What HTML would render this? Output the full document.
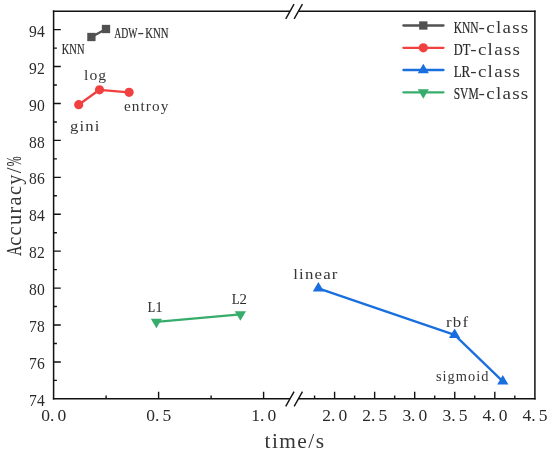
<!DOCTYPE html>
<html lang="en"><head><meta charset="utf-8"><title>Accuracy vs time</title>
<style>html,body{margin:0;padding:0;background:#fff}body{width:550px;height:457px;overflow:hidden}svg{display:block}</style>
</head><body>
<svg width="550" height="457" viewBox="0 0 550 457">
<rect width="550" height="457" fill="#fff"/>
<g stroke="#111" stroke-width="1.5" fill="none" stroke-linecap="square">
<path d="M53.6,11.15 V398.85 M534.9,11.15 V398.85"/>
<path stroke-linecap="butt" d="M52.85,11.15 H289.9 M298.3,11.15 H535.65 M52.85,398.85 H289.9 M298.3,398.85 H535.65"/>
</g>
<g stroke="#111" stroke-width="1.4" stroke-linecap="butt">
<line x1="285.75" y1="18.85" x2="294.05" y2="4.05"/>
<line x1="294.15" y1="18.85" x2="302.45" y2="4.05"/>
<line x1="285.75" y1="406.45" x2="294.05" y2="391.65"/>
<line x1="294.15" y1="406.45" x2="302.45" y2="391.65"/>
</g>
<path d="M53.6,380.39 h3.3 M53.6,361.93 h7.2 M53.6,343.47 h3.3 M53.6,325.01 h7.2 M53.6,306.55 h3.3 M53.6,288.09 h7.2 M53.6,269.63 h3.3 M53.6,251.17 h7.2 M53.6,232.71 h3.3 M53.6,214.25 h7.2 M53.6,195.79 h3.3 M53.6,177.33 h7.2 M53.6,158.87 h3.3 M53.6,140.41 h7.2 M53.6,121.95 h3.3 M53.6,103.49 h7.2 M53.6,85.03 h3.3 M53.6,66.57 h7.2 M53.6,48.11 h3.3 M53.6,29.65 h7.2 M106.10,398.85 v-3.3 M158.60,398.85 v-7.2 M211.10,398.85 v-3.3 M263.60,398.85 v-7.2 M314.58,398.85 v-3.3 M334.60,398.85 v-7.2 M354.62,398.85 v-3.3 M374.65,398.85 v-7.2 M394.68,398.85 v-3.3 M414.70,398.85 v-7.2 M434.73,398.85 v-3.3 M454.75,398.85 v-7.2 M474.77,398.85 v-3.3 M494.80,398.85 v-7.2 M514.83,398.85 v-3.3" stroke="#111" stroke-width="1.4" fill="none"/>
<text x="29.10" y="405.95" font-family='"Liberation Serif", serif' font-size="17.5" fill="#2a2a2a"><tspan textLength="15.60" lengthAdjust="spacingAndGlyphs">74</tspan></text>
<text x="29.10" y="369.03" font-family='"Liberation Serif", serif' font-size="17.5" fill="#2a2a2a"><tspan textLength="15.60" lengthAdjust="spacingAndGlyphs">76</tspan></text>
<text x="29.10" y="332.11" font-family='"Liberation Serif", serif' font-size="17.5" fill="#2a2a2a"><tspan textLength="15.60" lengthAdjust="spacingAndGlyphs">78</tspan></text>
<text x="29.10" y="295.19" font-family='"Liberation Serif", serif' font-size="17.5" fill="#2a2a2a"><tspan textLength="15.60" lengthAdjust="spacingAndGlyphs">80</tspan></text>
<text x="29.10" y="258.27" font-family='"Liberation Serif", serif' font-size="17.5" fill="#2a2a2a"><tspan textLength="15.60" lengthAdjust="spacingAndGlyphs">82</tspan></text>
<text x="29.10" y="221.35" font-family='"Liberation Serif", serif' font-size="17.5" fill="#2a2a2a"><tspan textLength="15.60" lengthAdjust="spacingAndGlyphs">84</tspan></text>
<text x="29.10" y="184.43" font-family='"Liberation Serif", serif' font-size="17.5" fill="#2a2a2a"><tspan textLength="15.60" lengthAdjust="spacingAndGlyphs">86</tspan></text>
<text x="29.10" y="147.51" font-family='"Liberation Serif", serif' font-size="17.5" fill="#2a2a2a"><tspan textLength="15.60" lengthAdjust="spacingAndGlyphs">88</tspan></text>
<text x="29.10" y="110.59" font-family='"Liberation Serif", serif' font-size="17.5" fill="#2a2a2a"><tspan textLength="15.60" lengthAdjust="spacingAndGlyphs">90</tspan></text>
<text x="29.10" y="73.67" font-family='"Liberation Serif", serif' font-size="17.5" fill="#2a2a2a"><tspan textLength="15.60" lengthAdjust="spacingAndGlyphs">92</tspan></text>
<text x="29.10" y="36.75" font-family='"Liberation Serif", serif' font-size="17.5" fill="#2a2a2a"><tspan textLength="15.60" lengthAdjust="spacingAndGlyphs">94</tspan></text>
<text x="41.30 50.00 57.50" y="421.30" font-family='"Liberation Serif", serif' font-size="17.5" fill="#2a2a2a">0.0</text>
<text x="146.30 155.00 162.50" y="421.30" font-family='"Liberation Serif", serif' font-size="17.5" fill="#2a2a2a">0.5</text>
<text x="251.30 260.00 267.50" y="421.30" font-family='"Liberation Serif", serif' font-size="17.5" fill="#2a2a2a">1.0</text>
<text x="322.30 331.00 338.50" y="421.30" font-family='"Liberation Serif", serif' font-size="17.5" fill="#2a2a2a">2.0</text>
<text x="362.35 371.05 378.55" y="421.30" font-family='"Liberation Serif", serif' font-size="17.5" fill="#2a2a2a">2.5</text>
<text x="402.40 411.10 418.60" y="421.30" font-family='"Liberation Serif", serif' font-size="17.5" fill="#2a2a2a">3.0</text>
<text x="442.45 451.15 458.65" y="421.30" font-family='"Liberation Serif", serif' font-size="17.5" fill="#2a2a2a">3.5</text>
<text x="482.50 491.20 498.70" y="421.30" font-family='"Liberation Serif", serif' font-size="17.5" fill="#2a2a2a">4.0</text>
<text x="522.55 531.25 538.75" y="421.30" font-family='"Liberation Serif", serif' font-size="17.5" fill="#2a2a2a">4.5</text>
<text x="264.60" y="447.60" font-family='"Liberation Serif", serif' font-size="20" fill="#2a2a2a"><tspan font-size="21.20" letter-spacing="1.40" fill="#363636" textLength="60.80" lengthAdjust="spacingAndGlyphs">time/s</tspan></text>
<g transform="translate(21.3,255.7) rotate(-90)">
<text x="0.00" y="0.00" font-family='"Liberation Serif", serif' font-size="20" fill="#2a2a2a"><tspan stroke="#2a2a2a" stroke-width="0.2" textLength="9.95" lengthAdjust="spacingAndGlyphs">A</tspan><tspan font-size="21.20" letter-spacing="1.40" fill="#363636" textLength="79.60" lengthAdjust="spacingAndGlyphs">ccuracy/</tspan><tspan stroke="#2a2a2a" stroke-width="0.2" textLength="9.95" lengthAdjust="spacingAndGlyphs">%</tspan></text>
</g>
<polyline points="91.40,37.00 106.00,29.00" fill="none" stroke="#515151" stroke-width="2.3" stroke-linejoin="round" stroke-linecap="round"/>
<rect x="87.25" y="32.85" width="8.3" height="8.3" fill="#515151"/>
<rect x="101.85" y="24.85" width="8.3" height="8.3" fill="#515151"/>
<polyline points="78.70,104.70 99.50,89.80 129.10,92.30" fill="none" stroke="#F14040" stroke-width="2.3" stroke-linejoin="round" stroke-linecap="round"/>
<circle cx="78.70" cy="104.70" r="4.6" fill="#F14040"/>
<circle cx="99.50" cy="89.80" r="4.6" fill="#F14040"/>
<circle cx="129.10" cy="92.30" r="4.6" fill="#F14040"/>
<polyline points="318.40,288.30 454.60,334.80 502.80,381.30" fill="none" stroke="#1A6FDF" stroke-width="2.3" stroke-linejoin="round" stroke-linecap="round"/>
<polygon points="312.80,291.47 324.00,291.47 318.40,281.97" fill="#1A6FDF"/>
<polygon points="449.00,337.97 460.20,337.97 454.60,328.47" fill="#1A6FDF"/>
<polygon points="497.20,384.47 508.40,384.47 502.80,374.97" fill="#1A6FDF"/>
<polyline points="156.40,321.90 240.40,314.30" fill="none" stroke="#37AD6B" stroke-width="2.3" stroke-linejoin="round" stroke-linecap="round"/>
<polygon points="150.80,318.73 162.00,318.73 156.40,328.23" fill="#37AD6B"/>
<polygon points="234.80,311.13 246.00,311.13 240.40,320.63" fill="#37AD6B"/>
<text x="61.80" y="53.60" font-family='"Liberation Serif", serif' font-size="15" fill="#2a2a2a"><tspan stroke="#2a2a2a" stroke-width="0.2" textLength="22.65" lengthAdjust="spacingAndGlyphs">KNN</tspan></text>
<text x="114.30" y="38.40" font-family='"Liberation Serif", serif' font-size="15" fill="#2a2a2a"><tspan stroke="#2a2a2a" stroke-width="0.2" textLength="23.25" lengthAdjust="spacingAndGlyphs">ADW</tspan><tspan font-size="15.90" letter-spacing="1.05" fill="#363636" textLength="7.75" lengthAdjust="spacingAndGlyphs">-</tspan><tspan stroke="#2a2a2a" stroke-width="0.2" textLength="23.25" lengthAdjust="spacingAndGlyphs">KNN</tspan></text>
<text x="84.00" y="80.30" font-family='"Liberation Serif", serif' font-size="15" fill="#2a2a2a"><tspan font-size="15.00" letter-spacing="1.05" fill="#363636" textLength="23.25" lengthAdjust="spacingAndGlyphs">log</tspan></text>
<text x="124.00" y="110.60" font-family='"Liberation Serif", serif' font-size="15" fill="#2a2a2a"><tspan font-size="15.00" letter-spacing="1.05" fill="#363636" textLength="45.45" lengthAdjust="spacingAndGlyphs">entroy</tspan></text>
<text x="70.00" y="131.40" font-family='"Liberation Serif", serif' font-size="15" fill="#2a2a2a"><tspan font-size="15.00" letter-spacing="1.05" fill="#363636" textLength="30.65" lengthAdjust="spacingAndGlyphs">gini</tspan></text>
<text x="147.80" y="312.40" font-family='"Liberation Serif", serif' font-size="15" fill="#2a2a2a"><tspan stroke="#2a2a2a" stroke-width="0.2" textLength="7.40" lengthAdjust="spacingAndGlyphs">L</tspan><tspan textLength="7.40" lengthAdjust="spacingAndGlyphs">1</tspan></text>
<text x="232.00" y="304.10" font-family='"Liberation Serif", serif' font-size="15" fill="#2a2a2a"><tspan stroke="#2a2a2a" stroke-width="0.2" textLength="7.40" lengthAdjust="spacingAndGlyphs">L</tspan><tspan textLength="7.40" lengthAdjust="spacingAndGlyphs">2</tspan></text>
<text x="293.20" y="278.60" font-family='"Liberation Serif", serif' font-size="15" fill="#2a2a2a"><tspan font-size="15.00" letter-spacing="1.05" fill="#363636" textLength="45.45" lengthAdjust="spacingAndGlyphs">linear</tspan></text>
<text x="446.00" y="326.90" font-family='"Liberation Serif", serif' font-size="15" fill="#2a2a2a"><tspan font-size="15.00" letter-spacing="1.05" fill="#363636" textLength="23.25" lengthAdjust="spacingAndGlyphs">rbf</tspan></text>
<text x="435.90" y="381.40" font-family='"Liberation Serif", serif' font-size="15" fill="#2a2a2a"><tspan font-size="15.00" letter-spacing="1.05" fill="#363636" textLength="53.55" lengthAdjust="spacingAndGlyphs">sigmoid</tspan></text>
<line x1="403.4" y1="25.5" x2="443.5" y2="25.5" stroke="#515151" stroke-width="2.3" stroke-linecap="round"/>
<rect x="419.15" y="21.35" width="8.3" height="8.3" fill="#515151"/>
<text x="453.70" y="32.60" font-family='"Liberation Serif", serif' font-size="16.5" fill="#2a2a2a"><tspan stroke="#2a2a2a" stroke-width="0.2" textLength="24.90" lengthAdjust="spacingAndGlyphs">KNN</tspan><tspan font-size="17.49" letter-spacing="1.16" fill="#363636" textLength="50.96" lengthAdjust="spacingAndGlyphs">-class</tspan></text>
<line x1="403.4" y1="47.8" x2="443.5" y2="47.8" stroke="#F14040" stroke-width="2.3" stroke-linecap="round"/>
<circle cx="423.30" cy="47.80" r="4.6" fill="#F14040"/>
<text x="453.70" y="54.90" font-family='"Liberation Serif", serif' font-size="16.5" fill="#2a2a2a"><tspan stroke="#2a2a2a" stroke-width="0.2" textLength="16.60" lengthAdjust="spacingAndGlyphs">DT</tspan><tspan font-size="17.49" letter-spacing="1.16" fill="#363636" textLength="50.96" lengthAdjust="spacingAndGlyphs">-class</tspan></text>
<line x1="403.4" y1="70.0" x2="443.5" y2="70.0" stroke="#1A6FDF" stroke-width="2.3" stroke-linecap="round"/>
<polygon points="417.70,73.17 428.90,73.17 423.30,63.67" fill="#1A6FDF"/>
<text x="453.70" y="77.10" font-family='"Liberation Serif", serif' font-size="16.5" fill="#2a2a2a"><tspan stroke="#2a2a2a" stroke-width="0.2" textLength="16.60" lengthAdjust="spacingAndGlyphs">LR</tspan><tspan font-size="17.49" letter-spacing="1.16" fill="#363636" textLength="50.96" lengthAdjust="spacingAndGlyphs">-class</tspan></text>
<line x1="403.4" y1="92.3" x2="443.5" y2="92.3" stroke="#37AD6B" stroke-width="2.3" stroke-linecap="round"/>
<polygon points="417.70,89.13 428.90,89.13 423.30,98.63" fill="#37AD6B"/>
<text x="453.70" y="99.40" font-family='"Liberation Serif", serif' font-size="16.5" fill="#2a2a2a"><tspan stroke="#2a2a2a" stroke-width="0.2" textLength="24.90" lengthAdjust="spacingAndGlyphs">SVM</tspan><tspan font-size="17.49" letter-spacing="1.16" fill="#363636" textLength="50.96" lengthAdjust="spacingAndGlyphs">-class</tspan></text>
</svg></body></html>
